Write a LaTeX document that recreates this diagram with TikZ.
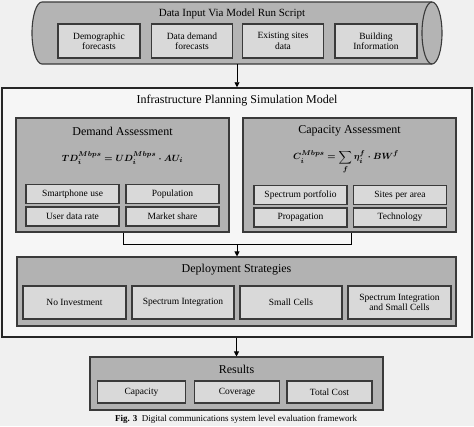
\documentclass[tikz,border=0pt]{standalone}
\usepackage{fontspec}
\usepackage{amsmath}
\setmainfont{Liberation Serif}
\usetikzlibrary{arrows.meta}
\definecolor{bgc}{HTML}{F0F0F0}
\definecolor{infrabg}{HTML}{F6F6F6}
\definecolor{cylc}{HTML}{B4B4B4}
\definecolor{grpc}{HTML}{B2B2B2}
\definecolor{itemc}{HTML}{D9D9D9}
\definecolor{edgec}{HTML}{3A3A3A}
\tikzset{
  itembox/.style={draw=edgec, fill=itemc, line width=1.1pt, inner sep=1pt, align=center,
     font=\fontsize{9.5}{10.5}\selectfont},
  grpbox/.style={draw=edgec, fill=grpc, line width=1.1pt},
  titletext/.style={font=\fontsize{12}{14}\selectfont},
  formula/.style={font=\fontsize{9.5}{11}\selectfont\boldmath},
  conn/.style={draw=black, line width=0.9pt},
  arr/.style={conn, -{Triangle[length=5pt,width=5pt]}},
}
\begin{document}
\begin{tikzpicture}[x=1pt,y=-1pt]
\useasboundingbox (0,0) rectangle (474,426);
\fill[bgc] (0,0) rectangle (474,426);
% cylinder
\filldraw[fill=cylc, draw=edgec, line width=1.1pt]
  (42,2) -- (432,2) arc[start angle=-90, end angle=90, x radius=10, y radius=31]
  -- (42,64) arc[start angle=90, end angle=270, x radius=10, y radius=31] -- cycle;
\draw[draw=edgec, line width=1.1pt] (432,2) arc[start angle=270, end angle=90, x radius=10, y radius=31];
\coordinate (cylbot) at (237,64);
\node[titletext, font=\fontsize{11}{13}\selectfont] (cyltitle) at (232,14) {Data Input Via Model Run Script};
\node[itembox, minimum width=82pt, minimum height=34pt] (d1) at (99,41) {Demographic\\forecasts};
\node[itembox, minimum width=81pt, minimum height=34pt] (d2) at (192,41) {Data demand\\forecasts};
\node[itembox, minimum width=81pt, minimum height=34pt] (d3) at (283,41) {Existing sites\\data};
\node[itembox, minimum width=82pt, minimum height=34pt] (d4) at (376,41) {Building\\Information};
% infrastructure
\node[draw=black!85, fill=infrabg, line width=1.5pt, minimum width=470pt, minimum height=249pt, inner sep=0pt] (infra) at (237,212.5) {};
\node[titletext] (infratitle) at (237,101) {Infrastructure Planning Simulation Model};
\draw[arr] (cylbot) -- (infra.north);
% demand
\node[grpbox, minimum width=213pt, minimum height=114pt, inner sep=0pt] (demand) at (122.5,175) {};
\node[titletext] (demtitle) at (122.5,131) {Demand Assessment};
\node[formula] (demform) at (122.5,158) {$TD_i^{Mbps} = UD_i^{Mbps}\cdot AU_i$};
\node[itembox, minimum width=93pt, minimum height=19pt] (s1) at (72.5,194) {Smartphone use};
\node[itembox, minimum width=93pt, minimum height=19pt] (s2) at (172.5,194) {Population};
\node[itembox, minimum width=93pt, minimum height=19pt] (s3) at (72.5,216.5) {User data rate};
\node[itembox, minimum width=93pt, minimum height=19pt] (s4) at (172.5,216.5) {Market share};
% capacity
\node[grpbox, minimum width=213pt, minimum height=114pt, inner sep=0pt] (capacity) at (349.5,175) {};
\node[titletext] (captitle) at (349.5,131) {Capacity Assessment};
\node[formula] (capform) at (346,162) {$\displaystyle C_i^{Mbps} = \sum_f \eta_i^f\cdot BW^f$};
\node[itembox, minimum width=93pt, minimum height=19pt] (c1) at (300.5,195) {Spectrum portfolio};
\node[itembox, minimum width=93pt, minimum height=19pt] (c2) at (400,195) {Sites per area};
\node[itembox, minimum width=93pt, minimum height=19pt] (c3) at (300.5,217.5) {Propagation};
\node[itembox, minimum width=93pt, minimum height=19pt] (c4) at (400,217.5) {Technology};
% merge connector
\coordinate (mergeL) at (123,244);
\coordinate (mergeR) at (351,244);
\coordinate (mergeM) at (237,244);
\draw[conn] (demand.south -| mergeL) -- (mergeL) -- (mergeR) -- (capacity.south -| mergeR);
% deployment
\node[grpbox, minimum width=439pt, minimum height=69pt, inner sep=0pt] (deploy) at (236.5,291.5) {};
\draw[arr] (mergeM) -- (deploy.north -| mergeM);
\node[titletext] (deptitle) at (236.5,270) {Deployment Strategies};
\node[itembox, minimum width=103pt, minimum height=33pt] (p1) at (74.5,302.5) {No Investment};
\node[itembox, minimum width=102pt, minimum height=33pt] (p2) at (183,302.5) {Spectrum Integration};
\node[itembox, minimum width=102pt, minimum height=33pt] (p3) at (291,302.5) {Small Cells};
\node[itembox, minimum width=103pt, minimum height=33pt] (p4) at (399.5,302.5) {Spectrum Integration\\and Small Cells};
% results
\node[grpbox, minimum width=293pt, minimum height=53pt, inner sep=0pt] (results) at (236.5,383.5) {};
\draw[arr] (infra.south -| results.north) -- (results.north);
\node[titletext] (restitle) at (236.5,369) {Results};
\node[itembox, minimum width=88pt, minimum height=22pt] (r1) at (141.5,392) {Capacity};
\node[itembox, minimum width=85pt, minimum height=22pt] (r2) at (237,392) {Coverage};
\node[itembox, minimum width=85pt, minimum height=22pt] (r3) at (329.5,392) {Total Cost};
% caption
\node[font=\fontsize{9}{10}\selectfont, inner sep=0pt] (caption) at (236,419.5) {\textbf{Fig. 3}\ \ Digital communications system level evaluation framework};
\end{tikzpicture}
\end{document}
